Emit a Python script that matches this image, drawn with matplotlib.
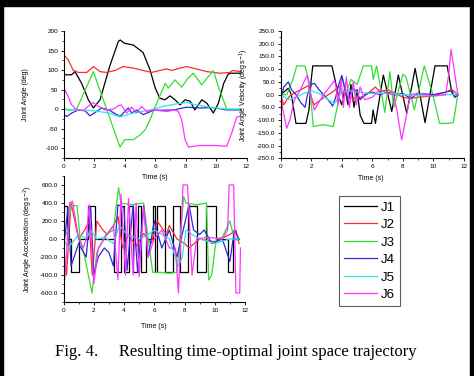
import matplotlib
matplotlib.use("Agg")
import matplotlib.pyplot as plt
from matplotlib.patches import Rectangle
from matplotlib.ticker import MultipleLocator, FormatStrFormatter

plt.rcParams['font.family'] = ['Liberation Sans', 'DejaVu Sans']
plt.rcParams['axes.unicode_minus'] = False

# ---------------- data: joint angles (deg) ----------------
t_a1 = [0, 0.5, 0.72, 1.16, 1.6, 1.93, 2.37, 3.0, 3.57, 3.7, 3.95, 4.56, 5.2, 5.66, 6.0, 6.3, 6.64, 6.97, 7.3, 7.63, 7.96, 8.3, 8.6, 9.06, 9.4, 9.82, 10.15, 10.5, 10.8, 11.0, 11.6]
a_j1 = [88, 88, 96, 66, 24, 3, 24, 109, 173, 177, 169, 164, 145, 100, 54, 28, 24, 34, 24, 11, 24, 20, -2, 24, 15, -10, 15, 66, 90, 92, 92]
t_a2 = [0, 0.28, 0.6, 0.94, 1.5, 1.93, 2.37, 2.8, 3.35, 3.9, 4.56, 5.2, 5.77, 6.3, 6.75, 7.08, 7.63, 8.07, 8.7, 9.4, 10.26, 10.9, 11.1, 11.6]
a_j2 = [139, 126, 100, 94, 94, 109, 96, 94, 99, 109, 105, 99, 94, 99, 103, 99, 105, 109, 103, 96, 92, 94, 99, 96]
t_a3 = [0, 0.4, 0.83, 1.93, 3.68, 4.0, 4.56, 5.0, 5.33, 5.66, 6.0, 6.53, 6.64, 6.86, 7.3, 7.74, 8.07, 8.5, 9.06, 9.4, 9.82, 10.15, 10.7, 11.6]
a_j3 = [0, -3, 0, 96, -97, -78, -78, -66, -53, -27, 7, 54, 66, 54, 75, 56, 75, 92, 62, 79, 99, 58, 0, 0]
t_a4 = [0, 0.18, 0.5, 0.94, 1.38, 1.7, 2.15, 2.48, 3.0, 3.68, 4.0, 4.23, 4.45, 4.78, 5.2, 5.88, 7.2, 8.07, 8.95, 9.82, 10.7, 11.6]
a_j4 = [-13, -19, -10, -2, -4, -17, -6, 3, -3, -19, -6, 3, -10, -2, -14, -3, -2, 5, 3, 4, -2, -2]
t_a5 = [0, 0.83, 1.93, 3.0, 3.68, 4.56, 5.66, 6.75, 7.63, 8.07, 8.7, 9.6, 10.7, 11.6]
a_j5 = [0, -2, -4, -10, -20, -10, -2, 9, 15, 17, 11, 5, 0, 0]
t_a6 = [0, 0.28, 0.5, 0.83, 1.27, 1.7, 1.9, 2.26, 2.7, 3.25, 3.57, 3.75, 4.12, 4.45, 4.78, 5.1, 5.44, 5.88, 6.75, 7.3, 7.52, 7.74, 7.96, 8.18, 8.95, 9.82, 10.7, 11.03, 11.36, 11.6]
a_j6 = [54, 32, 11, -2, -4, 11, 17, 7, -2, 0, 9, 11, -10, 5, -9, 7, -6, -2, -6, -2, -6, -27, -78, -97, -93, -93, -95, -61, -20, -18]

# ---------------- data: joint velocities (deg/s) ----------------
t_v1 = [0, 0.3, 0.5, 0.7, 1.0, 1.65, 1.85, 2.0, 2.1, 3.35, 3.55, 3.8, 4.0, 4.2, 4.4, 4.6, 4.8, 5.0, 5.2, 5.45, 5.95, 6.05, 6.2, 6.72, 7.27, 7.7, 8.25, 8.8, 9.45, 10.1, 10.9, 11.2, 11.4, 11.6]
v_j1 = [0, 15, 25, 0, -113, -113, -60, 60, 113, 113, 60, -10, -40, 30, -40, 40, -50, 20, -80, -113, -113, -60, -113, 77, -66, 77, -73, 103, -110, 113, 113, 10, -10, 0]
t_v2 = [0, 0.2, 0.4, 0.6, 1.0, 1.5, 1.8, 2.0, 2.2, 2.5, 3.0, 3.5, 3.8, 4.0, 4.5, 5.0, 5.5, 6.0, 6.2, 6.5, 7.0, 7.5, 8.0, 8.5, 9.0, 10.0, 10.8, 11.2, 11.6]
v_j2 = [0, -40, -20, -5, 10, 25, 35, -10, -40, -25, -5, 15, 35, 5, -10, -15, -5, 20, 30, 10, 20, 5, -10, -15, -10, -5, 10, 20, 0]
t_v3 = [0, 0.4, 0.8, 1.05, 1.59, 1.9, 2.13, 2.8, 3.44, 3.8, 4.0, 4.3, 4.6, 5.0, 5.41, 5.95, 6.06, 6.28, 6.82, 7.15, 7.4, 8.0, 8.2, 8.75, 9.4, 9.96, 10.4, 10.9, 11.3, 11.6]
v_j3 = [0, 0, 60, 113, 113, 40, -125, -118, -125, -20, 75, 10, 60, 40, 113, 113, 60, 113, -70, 90, -50, 80, 70, -60, 113, 0, -113, -113, -110, 0]
t_v4 = [0, 0.2, 0.5, 0.7, 1.0, 1.3, 1.6, 1.75, 2.0, 2.2, 2.5, 2.8, 3.1, 3.4, 3.6, 3.8, 4.0, 4.2, 4.4, 4.7, 5.0, 5.2, 5.5, 6.0, 6.5, 7.0, 7.5, 8.0, 8.5, 9.0, 10.0, 10.8, 11.2, 11.4, 11.6]
v_j4 = [-20, 30, 50, 20, 0, -30, -50, 0, 40, 45, 20, 0, -20, -45, -10, 40, 75, 20, -20, 25, 10, -20, 0, 10, 0, 10, 0, 5, -15, 5, 0, 10, 15, -10, 0]
t_v5 = [0, 0.5, 1.0, 1.5, 2.0, 2.5, 3.0, 3.5, 3.7, 4.0, 4.5, 5.0, 6.0, 7.0, 8.0, 9.0, 10.0, 11.0, 11.6]
v_j5 = [0, -20, -10, 5, 15, 5, -15, -35, -20, 10, 15, 10, 5, 5, 0, -3, -5, 0, 0]
t_v6 = [0, 0.15, 0.39, 0.6, 0.9, 1.3, 1.6, 1.75, 1.9, 2.2, 2.4, 2.8, 3.2, 3.5, 3.6, 3.75, 3.95, 4.1, 4.3, 4.5, 4.75, 4.95, 5.2, 5.5, 6.0, 6.5, 7.0, 7.4, 7.6, 7.92, 8.3, 8.5, 9.0, 10.0, 10.8, 11.0, 11.15, 11.4, 11.6]
v_j6 = [0, -60, -132, -100, -20, 20, 60, 75, 20, -60, -40, 0, 30, 55, 40, -40, 60, -50, 70, -50, 50, -40, 30, -20, -10, 20, 5, 0, -60, -178, -60, 0, 5, -5, 0, 80, 178, 80, 0]

# ---------------- data: joint accelerations (deg/s^2) ----------------
t_c1 = [0, 0.2, 0.5, 1.0, 1.65, 2.1, 3.35, 3.8, 4.0, 4.3, 4.6, 4.9, 5.1, 5.45, 5.95, 6.05, 6.2, 6.72, 7.27, 7.7, 8.25, 8.8, 9.45, 10.1, 10.9, 11.2, 11.6]
c_j1 = [370, 0, -370, 0, 370, 0, -370, 370, -370, 370, -370, 370, -370, 0, 370, -370, 370, -370, 370, -370, 370, -370, 370, 0, -370, 0, 0]
t_c2 = [0, 0.2, 0.5, 1.0, 1.4, 1.7, 1.9, 2.2, 2.6, 2.9, 3.3, 3.6, 3.9, 4.3, 4.8, 5.3, 5.8, 6.2, 6.8, 7.0, 7.5, 8.0, 8.3, 9.0, 10.0, 11.0, 11.4, 11.6]
c_j2 = [-100, -400, 400, 0, 100, 200, -400, 200, 100, 50, 150, 250, -100, 50, -80, 60, -50, 200, 50, 150, 0, -50, -100, 0, -30, 50, 100, -50]
t_c3 = [0, 0.3, 0.5, 0.9, 1.1, 1.4, 1.88, 2.2, 2.8, 3.3, 3.64, 3.8, 4.5, 5.3, 5.6, 5.9, 6.3, 7.0, 7.5, 7.95, 8.1, 8.8, 9.45, 9.6, 9.8, 10.1, 10.5, 11.0, 11.3, 11.6]
c_j3 = [0, 100, 370, 370, 0, -200, -600, -150, 50, 100, 570, 400, 380, 400, 0, -370, -370, -380, -370, 470, 400, 380, 400, -455, -400, 0, 20, 200, 0, 0]
t_c4 = [0, 0.3, 0.5, 1.0, 1.5, 1.8, 2.0, 2.3, 2.7, 3.0, 3.3, 3.6, 4.0, 4.2, 4.6, 4.9, 5.3, 5.6, 6.0, 6.5, 7.0, 7.5, 8.3, 8.6, 9.0, 9.3, 9.8, 10.5, 11.0, 11.3, 11.6]
c_j4 = [-100, 350, -300, -50, -200, 350, -400, -200, -100, -150, -300, 380, 350, -350, 370, -370, 370, -200, 200, -100, 100, -200, 380, 100, 50, 100, -50, 0, -250, 100, 0]
t_c5 = [0, 0.3, 1.0, 1.5, 1.8, 2.2, 2.7, 3.3, 3.7, 4.2, 5.0, 5.6, 6.0, 7.0, 7.6, 7.85, 8.1, 8.5, 9.0, 10.0, 11.0, 11.6]
c_j5 = [0, -100, 50, 0, 100, 0, 20, -50, 150, 50, 0, 50, 100, 0, -300, -200, 100, 50, 0, -50, 0, 0]
t_c6 = [0, 0.15, 0.4, 0.6, 1.0, 1.3, 1.5, 1.7, 2.0, 2.3, 2.7, 3.0, 3.3, 3.6, 3.8, 4.1, 4.3, 4.6, 4.8, 5.0, 5.3, 5.6, 6.0, 6.5, 7.0, 7.4, 7.6, 7.9, 8.2, 8.5, 8.8, 9.5, 10.5, 10.85, 10.95, 11.25, 11.4, 11.65, 11.7]
c_j6 = [-600, -300, 400, 420, 0, -100, 0, 380, -500, -100, 0, 80, 150, -450, 500, -400, 450, -400, 400, -420, 350, -200, 0, 100, -100, -100, -600, 600, 600, -400, 0, 20, 0, 100, 600, 600, -600, -600, -100]

colors = ['#000000', '#ff2a2a', '#33dd33', '#2b2bd8', '#2ee6e6', '#ff33ff']
labels = ['J1', 'J2', 'J3', 'J4', 'J5', 'J6']

W, H = 474, 376
fig = plt.figure(figsize=(W / 100, H / 100), dpi=100)
fig.patch.set_facecolor('white')

def rect(x0, x1, y_top, y_bot):
    return [x0 / W, 1 - y_bot / H, (x1 - x0) / W, (y_bot - y_top) / H]

ax1 = fig.add_axes(rect(64, 246.5, 31, 158))
ax2 = fig.add_axes(rect(280.7, 464, 31, 158.3))
ax3 = fig.add_axes(rect(63.5, 245, 176, 302))

TICK_FS = 4.6

def style(ax, ylim, major, minor, fmt):
    ax.set_xlim(0, 12)
    ax.set_ylim(*ylim)
    for s in ['top', 'right']:
        ax.spines[s].set_visible(False)
    for s in ['left', 'bottom']:
        ax.spines[s].set_linewidth(0.8)
    ax.xaxis.set_major_locator(MultipleLocator(2))
    ax.xaxis.set_minor_locator(MultipleLocator(1))
    ax.yaxis.set_major_locator(MultipleLocator(major))
    ax.yaxis.set_minor_locator(MultipleLocator(minor))
    ax.yaxis.set_major_formatter(FormatStrFormatter(fmt))
    ax.tick_params(which='major', direction='out', length=2.5, width=0.6, labelsize=TICK_FS, pad=1.5)
    ax.tick_params(which='minor', direction='out', length=1.3, width=0.5)
    ax.set_facecolor('white')

lw = 0.9
a_sets = [(t_a1, a_j1), (t_a2, a_j2), (t_a3, a_j3), (t_a4, a_j4), (t_a5, a_j5), (t_a6, a_j6)]
v_sets = [(t_v1, v_j1), (t_v2, v_j2), (t_v3, v_j3), (t_v4, v_j4), (t_v5, v_j5), (t_v6, v_j6)]
c_sets = [(t_c1, c_j1), (t_c2, c_j2), (t_c3, c_j3), (t_c4, c_j4), (t_c5, c_j5), (t_c6, c_j6)]

handles = []
for (t, y), c, lab in zip(a_sets, colors, labels):
    h, = ax1.plot(t, y, color=c, lw=lw, label=lab)
    handles.append(h)
for (t, y), c in zip(v_sets, colors):
    ax2.plot(t, y, color=c, lw=lw)
for i, ((t, y), c) in enumerate(zip(c_sets, colors)):
    if i == 0:
        ax3.plot(t, y, color=c, lw=lw, drawstyle='steps-post')
    else:
        ax3.plot(t, y, color=c, lw=lw)

style(ax1, (-125, 200), 50, 25, '%d')
style(ax2, (-250, 250), 50, 25, '%.1f')
style(ax3, (-700, 700), 200, 100, '%.1f')

LAB_FS = 5.0
ax1.set_ylabel('Joint Angle (deg)', fontsize=LAB_FS)
ax2.set_ylabel('Joint Angle Velocity (deg s$^{-1}$)', fontsize=LAB_FS)
ax3.set_ylabel('Joint Angle Acceleration (deg s$^{-2}$)', fontsize=LAB_FS)
ax1.yaxis.set_label_coords((29 - 64) / 182.5, 0.5)
ax2.yaxis.set_label_coords((251 - 280.7) / 183.3, 0.5)
ax3.yaxis.set_label_coords((35 - 63.5) / 181.5, 0.5)

fig.text(155 / W, 1 - 178 / H, 'Time (s)', fontsize=LAB_FS, ha='center', va='center')
fig.text(371 / W, 1 - 179 / H, 'Time (s)', fontsize=LAB_FS, ha='center', va='center')
fig.text(154 / W, 1 - 327 / H, 'Time (s)', fontsize=LAB_FS, ha='center', va='center')

leg = fig.legend(handles=handles, loc='upper left', bbox_to_anchor=(339 / W, 1 - 196 / H),
                 fontsize=9.5, frameon=True, fancybox=False, edgecolor='#333333',
                 handlelength=2.5, handletextpad=0.25, labelspacing=0.4,
                 borderpad=0.4, borderaxespad=0)
leg.get_frame().set_linewidth(0.8)

fig.text(236 / W, 1 - 352 / H, 'Fig. 4.     Resulting time-optimal joint space trajectory',
         fontsize=12, family='Liberation Serif', ha='center', va='center')

# black scan border
fig.patches.append(Rectangle((0, 0), 3 / W, 1, transform=fig.transFigure, color='black', zorder=10))
fig.patches.append(Rectangle((0, 1 - 6 / H), 1, 6 / H, transform=fig.transFigure, color='black', zorder=10))
fig.patches.append(Rectangle((1 - 4 / W, 0), 4 / W, 1, transform=fig.transFigure, color='black', zorder=10))

fig.savefig('out.png', dpi=100)
